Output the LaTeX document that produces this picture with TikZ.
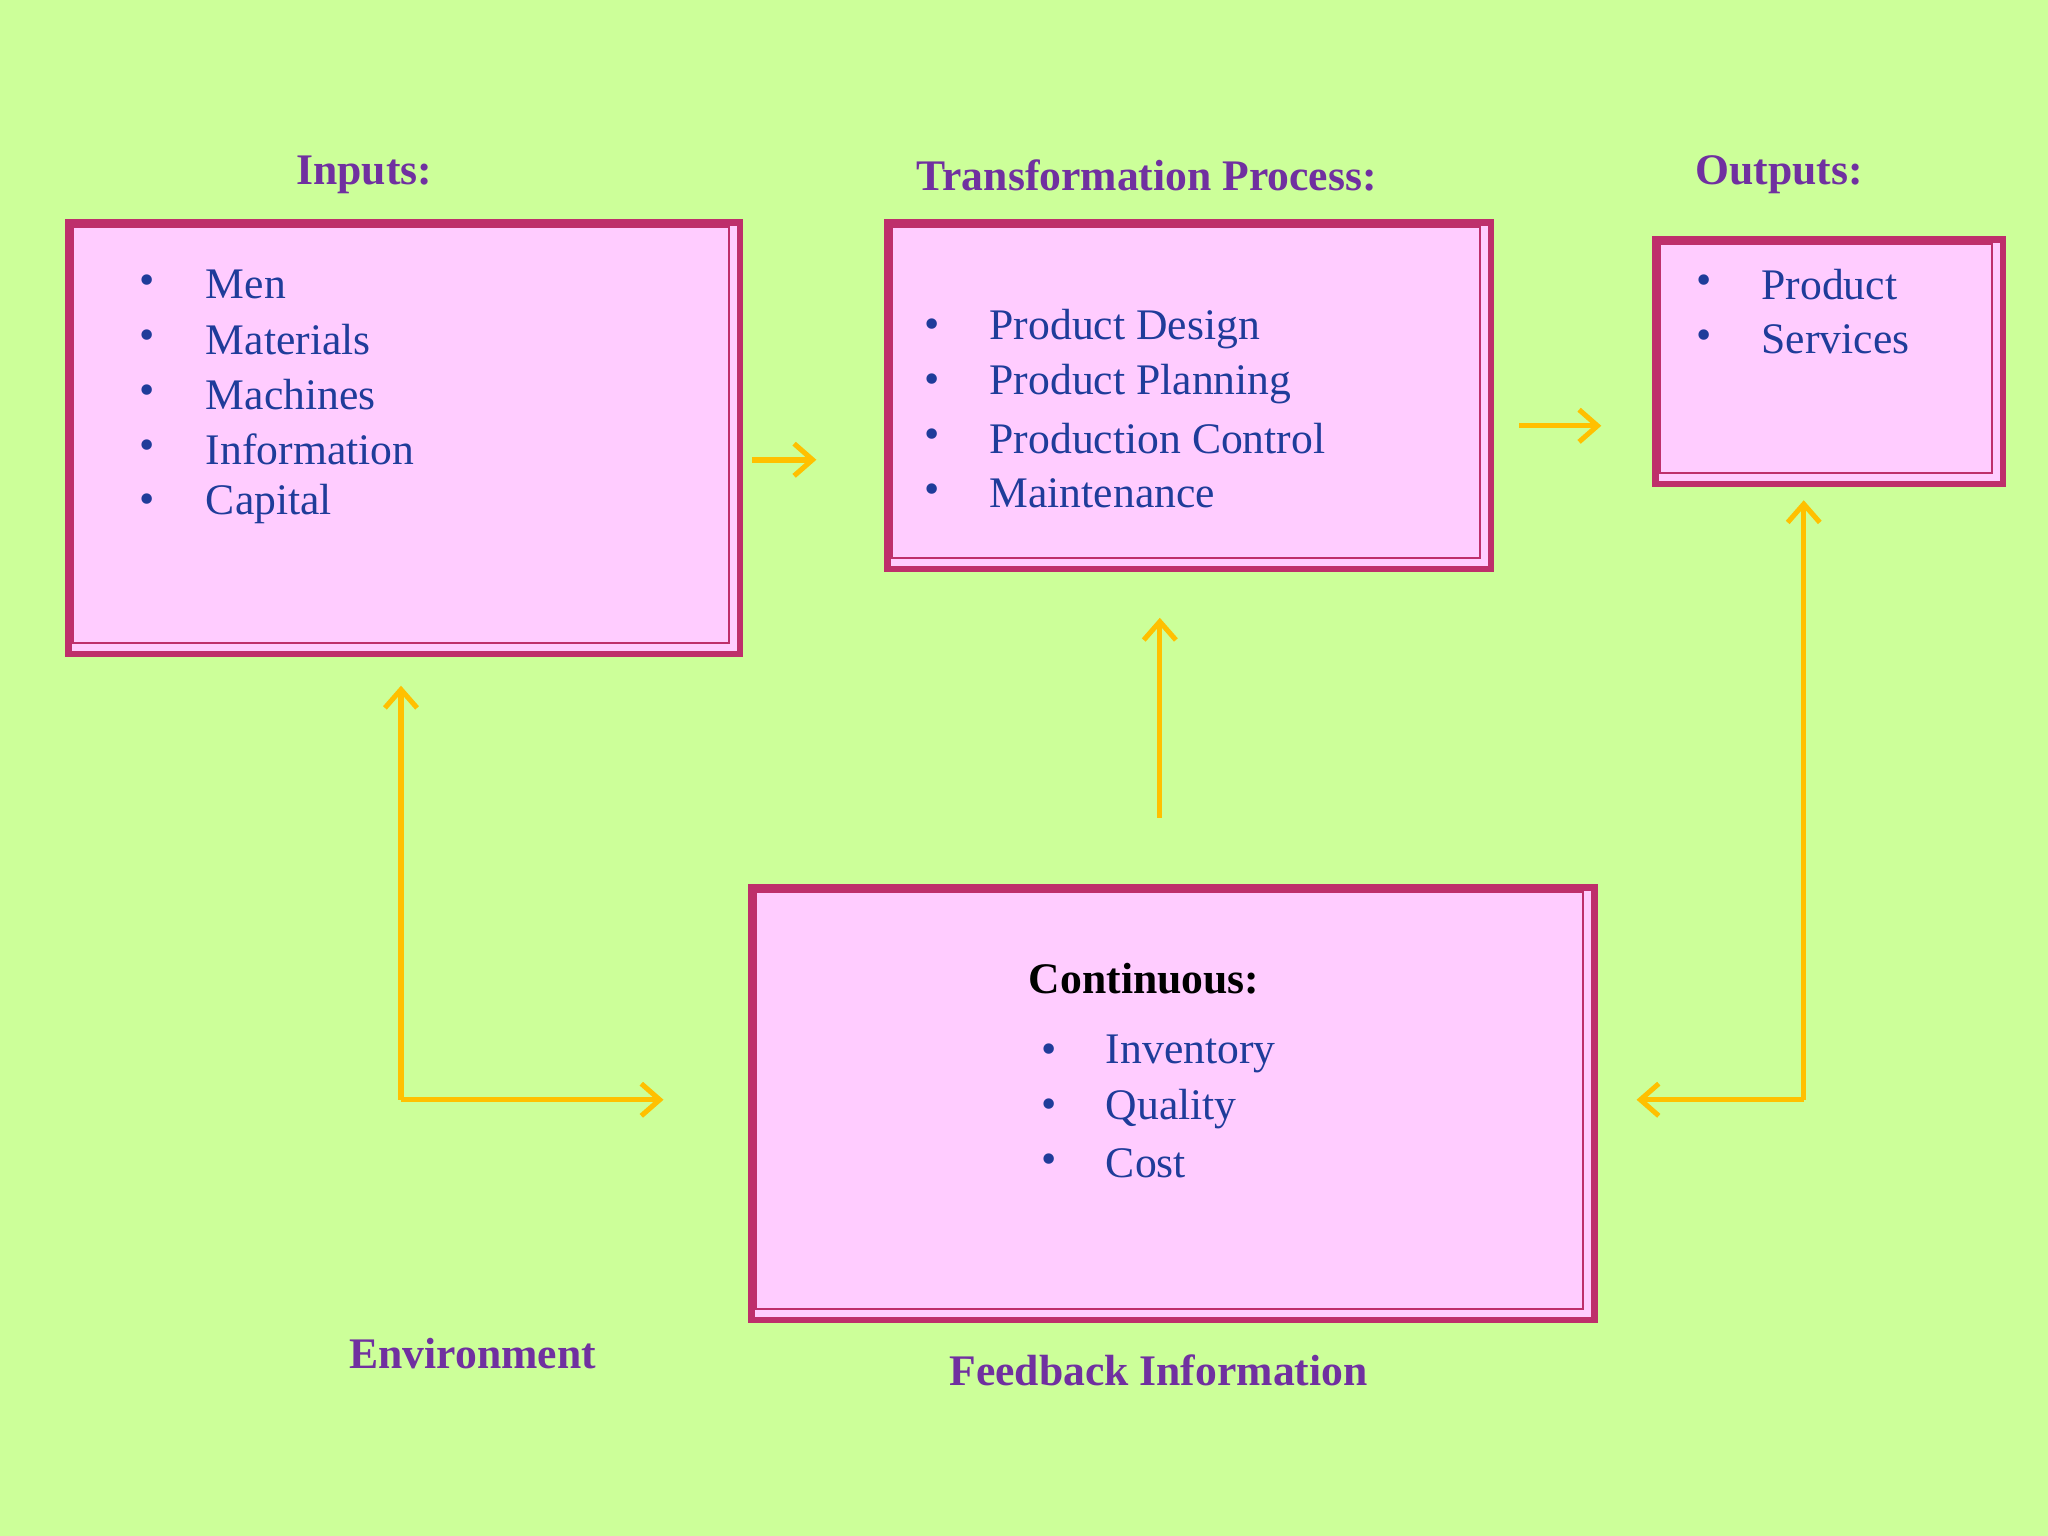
\documentclass[tikz,border=0pt]{standalone}
\usepackage{fontspec}
\setmainfont{Liberation Serif}
\usetikzlibrary{arrows.meta}
\definecolor{bg}{HTML}{CCFF99}
\definecolor{boxfill}{HTML}{FFCCFF}
\definecolor{boxline}{HTML}{BE2F6B}
\definecolor{ttl}{HTML}{7030A0}
\definecolor{itm}{HTML}{1F3C9A}
\definecolor{arr}{HTML}{FFC000}
\tikzset{
  box/.style={draw=boxline,line width=1.4pt,fill=boxfill},
  inner/.style={draw=boxline,line width=0.4pt},
  ttlstyle/.style={text=ttl,font=\fontsize{9.5}{11}\selectfont\bfseries},
  item/.style={text=itm,font=\fontsize{9.5}{11}\selectfont,anchor=west,inner sep=0pt},
  bul/.style={text=itm,font=\fontsize{9.5}{11}\selectfont,inner sep=0pt},
  flow/.style={draw=arr,line width=1.1pt,-{Straight Barb[length=4pt,width=7pt,line width=1.1pt]}},
}
\newcommand{\dbox}[5]{%
  \node[box,minimum width=#4-#2,minimum height=#5-#3,anchor=north west,inner sep=0pt] (#1) at (#2,#3) {};
  \draw[inner] ($(#2,#3)+(6,6)$) rectangle ($(#4,#5)+(-6,-6)$);}
\usetikzlibrary{calc}
\begin{document}
\begin{tikzpicture}[x=0.01cm,y=-0.01cm]
\fill[bg] (0,0) rectangle (1568,1176);
\useasboundingbox (0,0) rectangle (1568,1176);
% boxes
\node[box,minimum width=5.14cm,minimum height=3.30cm,anchor=north west,inner sep=0pt] (in) at (50,168) {};
\draw[inner] (56,174) rectangle (558,492);
\node[box,minimum width=4.62cm,minimum height=2.65cm,anchor=north west,inner sep=0pt] (tp) at (677,168) {};
\draw[inner] (683,174) rectangle (1133,427);
\node[box,minimum width=2.66cm,minimum height=1.87cm,anchor=north west,inner sep=0pt] (out) at (1265,181) {};
\draw[inner] (1271,187) rectangle (1525,362);
\node[box,minimum width=6.45cm,minimum height=3.31cm,anchor=north west,inner sep=0pt] (fb) at (573,677) {};
\draw[inner] (579,683) rectangle (1212,1002);
% titles
\node[ttlstyle] (t1) at (279,134) {Inputs:};
\node[ttlstyle] (t2) at (878,134) {Transformation Process:};
\node[ttlstyle] (t3) at (1362,134) {Outputs:};
\node[ttlstyle] (t4) at (362,1036) {Environment};
\node[ttlstyle] (t5) at (887,1049) {Feedback Information};
\node[font=\fontsize{9.5}{11}\selectfont\bfseries] (cont) at (876,749) {Continuous:};
% items
\foreach \t [count=\i] in {Men,Materials,Machines,Information,Capital}{
  \node[bul] (ib\i) at (113,218+42*\i-42) {•};
  \node[item] (it\i) at (157,218+42*\i-42) {\t};}
\foreach \t [count=\i] in {Product Design,Product Planning,Production Control,Maintenance}{
  \node[bul] (tb\i) at (714,252+42*\i-42) {•};
  \node[item] (tt\i) at (757,252+42*\i-42) {\t};}
\foreach \t [count=\i] in {Product,Services}{
  \node[bul] (ob\i) at (1305,218+42*\i-42) {•};
  \node[item] (ot\i) at (1348,218+42*\i-42) {\t};}
\foreach \t [count=\i] in {Inventory,Quality,Cost}{
  \node[bul] (fbb\i) at (803,807+42*\i-42) {•};
  \node[item] (ft\i) at (846,807+42*\i-42) {\t};}
% arrows
\coordinate (a1s) at (576,352); \coordinate (a1e) at (625,352);
\draw[flow,line width=1.4pt] (a1s) -- (a1e);
\coordinate (a2s) at (1163,326); \coordinate (a2e) at (1226,326);
\draw[flow] (a2s) -- (a2e);
\coordinate (a3s) at (888,626); \coordinate (a3e) at (888,473);
\draw[flow] (a3s) -- (a3e);
\coordinate (ec) at (307,842); \coordinate (eu) at (307,525); \coordinate (er) at (508,842);
\draw[flow] (ec) -- (eu);
\draw[flow] (ec) -- (er);
\coordinate (rc) at (1381,842); \coordinate (ru) at (1381,383); \coordinate (rl) at (1253,842);
\draw[flow] (rc) -- (ru);
\draw[flow] (rc) -- (rl);
\end{tikzpicture}
\end{document}
